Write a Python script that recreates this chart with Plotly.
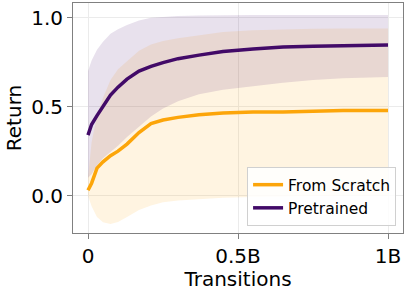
import plotly.graph_objects as go

# ---- data ----
transitions = [0, 0.012, 0.03, 0.05, 0.075, 0.1, 0.13, 0.17, 0.21, 0.25, 0.3, 0.37, 0.45, 0.55, 0.65, 0.75, 0.85, 1.0]

scratch_mean = [0.03, 0.07, 0.155, 0.19, 0.225, 0.25, 0.29, 0.355, 0.405, 0.425, 0.44, 0.455, 0.465, 0.47, 0.47, 0.476, 0.478, 0.478]
scratch_upper = [0.10, 0.30, 0.45, 0.55, 0.65, 0.71, 0.755, 0.815, 0.85, 0.87, 0.885, 0.90, 0.92, 0.93, 0.935, 0.938, 0.94, 0.94]
scratch_lower = [0.0, -0.06, -0.12, -0.15, -0.16, -0.148, -0.12, -0.08, -0.055, -0.037, -0.027, -0.02, -0.012, -0.008, -0.005, -0.003, 0.0, 0.0]

pre_mean = [0.34, 0.40, 0.45, 0.50, 0.565, 0.61, 0.655, 0.70, 0.727, 0.748, 0.77, 0.79, 0.81, 0.825, 0.835, 0.84, 0.843, 0.847]
pre_upper = [0.70, 0.76, 0.82, 0.865, 0.91, 0.935, 0.96, 0.985, 1.0, 1.006, 1.01, 1.013, 1.015, 1.015, 1.015, 1.015, 1.015, 1.015]
pre_lower = [0.10, 0.12, 0.17, 0.21, 0.245, 0.28, 0.33, 0.39, 0.445, 0.49, 0.53, 0.57, 0.595, 0.615, 0.635, 0.65, 0.66, 0.667]

x_ticks = [0, 0.5, 1.0]
x_tick_labels = ["0", "0.5B", "1B"]
y_ticks = [0.0, 0.5, 1.0]
y_tick_labels = ["0.0", "0.5", "1.0"]

ORANGE = "#FCA50A"
PURPLE = "#420A68"
ORANGE_FILL = "rgba(252,165,10,0.12)"
PURPLE_FILL = "rgba(66,10,104,0.12)"

fig = go.Figure()

def band(lower, upper, fill):
    fig.add_trace(go.Scatter(x=transitions, y=lower, mode="lines", line=dict(width=0),
                             showlegend=False, hoverinfo="skip"))
    fig.add_trace(go.Scatter(x=transitions, y=upper, mode="lines", line=dict(width=0),
                             fill="tonexty", fillcolor=fill, showlegend=False, hoverinfo="skip"))

band(scratch_lower, scratch_upper, ORANGE_FILL)
band(pre_lower, pre_upper, PURPLE_FILL)

fig.add_trace(go.Scatter(x=transitions, y=scratch_mean, mode="lines", name="From Scratch",
                         line=dict(color=ORANGE, width=3.5)))
fig.add_trace(go.Scatter(x=transitions, y=pre_mean, mode="lines", name="Pretrained",
                         line=dict(color=PURPLE, width=3.5)))

axis_common = dict(showline=True, mirror=True, linecolor="#808080", linewidth=1,
                   showgrid=True, gridcolor="#ebebeb", gridwidth=1, zeroline=False,
                   ticks="outside", ticklen=5, tickcolor="#808080", automargin=False,
                   tickfont=dict(family="DejaVu Sans", size=20, color="black"))

fig.update_xaxes(range=[-0.05, 1.05], tickvals=x_ticks, ticktext=x_tick_labels,
                 title=dict(text="Transitions", font=dict(family="DejaVu Sans", size=20, color="black"),
                            standoff=0),
                 **axis_common)
fig.update_yaxes(range=[-0.21, 1.083], tickvals=y_ticks, ticktext=y_tick_labels,
                 title=dict(text="Return", font=dict(family="DejaVu Sans", size=20, color="black"),
                            standoff=4),
                 **axis_common)

fig.update_layout(
    width=407, height=291,
    margin=dict(l=73, r=4, t=3, b=58),
    plot_bgcolor="white", paper_bgcolor="white",
    font=dict(family="DejaVu Sans", color="black"),
    legend=dict(x=0.979, y=0.03, xanchor="right", yanchor="bottom", traceorder="normal",
                bgcolor="rgba(255,255,255,0.85)", bordercolor="#d0d0d0", borderwidth=1,
                font=dict(family="DejaVu Sans", size=15.5, color="black"),
                tracegroupgap=0, itemwidth=30),
)

fig.write_html("out.html", config={"displayModeBar": False},
               post_script="document.body.style.margin='0px';")
